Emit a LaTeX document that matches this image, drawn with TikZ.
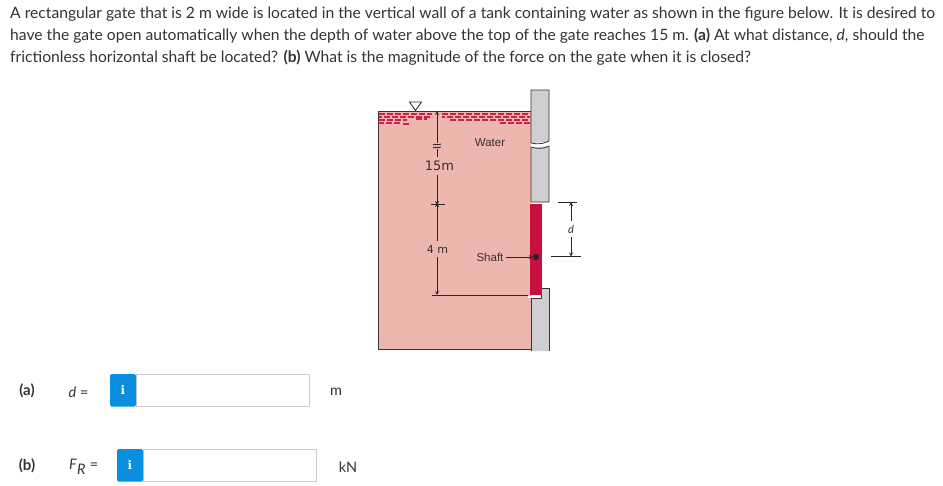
\documentclass[tikz,border=0pt]{standalone}
\usepackage{fontspec}
\setmainfont{Lato}
\newfontfamily\labelfont{Liberation Sans}
\newfontfamily\valuefont{DejaVu Sans}
\newfontfamily\iconfont{DejaVu Serif}
\definecolor{textgray}{HTML}{333333}
\definecolor{figgray}{HTML}{3A3035}
\definecolor{waterpink}{HTML}{EDB6AE}
\definecolor{gatered}{HTML}{C8103F}
\definecolor{wavered}{HTML}{C9224C}
\definecolor{wallgray}{HTML}{CDCFD1}
\definecolor{infoblue}{HTML}{0A8FE0}
\definecolor{boxgray}{HTML}{CCCCCC}
\tikzset{
  qline/.style={anchor=base west, inner sep=0pt, text=textgray, font=\fontsize{15.65}{18}\selectfont},
  figlabel/.style={inner xsep=2.5pt, inner ysep=3pt, text=figgray, font=\labelfont\fontsize{11.5}{13}\selectfont},
  anslabel/.style={inner sep=0pt, text=textgray, font=\fontsize{14.5}{16}\selectfont},
  partlabel/.style={inner sep=0pt, text=textgray, font=\fontsize{15}{17}\selectfont\bfseries},
  dimline/.style={draw=black!85, line width=0.8pt},
  wave/.style={draw=wavered, line width=2pt, dash pattern=on 6pt off 2pt},
  infobox/.style={fill=infoblue, rounded corners=1.5pt},
  inputbox/.style={draw=boxgray, fill=white, line width=1pt},
  infoletter/.style={inner sep=0pt, text=white, font=\iconfont\bfseries\fontsize{12}{14}\selectfont},
}
\begin{document}
\begin{tikzpicture}[x=1pt, y=-1pt, line join=round, >=stealth]
\useasboundingbox (0,0) rectangle (943,485);
% Question text
\node[qline] (lineone) at (10,18) {A rectangular gate that is 2 m wide is located in the vertical wall of a tank containing water as shown in the figure below. It is desired to};
\node[qline] (linetwo) at (10,40) {have the gate open automatically when the depth of water above the top of the gate reaches 15 m. \textbf{(a)} At what distance, \textit{d}, should the};
\node[qline] (linethree) at (10,62) {frictionless horizontal shaft be located? \textbf{(b)} What is the magnitude of the force on the gate when it is closed?};
% Water
\fill[waterpink] (378,111) rectangle (531,349);
\draw[figgray, line width=1pt] (531,349) -- (378,349) -- (378,111) -- (531,111);
\draw[wave] (379,113.5) -- (432,113.5);
\draw[wave] (442,113.5) -- (530,113.5);
\draw[wave, dash phase=3pt] (379,117) -- (432,117);
\draw[wave, dash phase=3pt] (442,117) -- (530,117);
\draw[wave] (379,120) -- (407,120);
\draw[wave] (450,120) -- (530,120);
\draw[wave] (378,123) -- (400,123);
\draw[wave] (403,124) -- (411,124);
\draw[wave] (416,119) -- (427,119);
\draw[wave] (500,123) -- (530,123);
% Wall
\fill[wallgray] (531,90) -- (549,90) -- (549,142) -- (531,143) -- cycle;
\fill[wallgray] (531,148) -- (549,146) -- (549,202) -- (531,202) -- cycle;
\draw[figgray, line width=0.8pt] (531,143) -- (531,90) -- (549,90) -- (549,141) .. controls (544,143) and (541,145) .. (531,143);
\draw[figgray, line width=0.8pt] (531,147) .. controls (538,149) and (543,149) .. (549,146) -- (549,202) -- (531,202) -- cycle;
\fill[wallgray] (542,288) -- (549,288) -- (549,351) -- (531,351) -- (531,298) -- (542,298) -- cycle;
\draw[figgray, line width=0.8pt] (531,351) -- (531,298) -- (541,298) -- (541,288) -- (549,288) -- (549,351);
% Gate
\fill[gatered] (530,204) rectangle (542,295);
\fill[white] (528,295.5) rectangle (541,298);
% Surface mark
\draw[figgray, fill=white, line width=0.9pt] (409.5,102) -- (421.5,102) -- (415.5,110.5) -- cycle;
% Depth dimension
\coordinate (surf) at (437,111);
\coordinate (gatetop) at (437,204);
\coordinate (gatebot) at (437,295);
\coordinate (tickl) at (431,204);
\coordinate (tickr) at (445,204);
\coordinate (botl) at (432,295);
\coordinate (botr) at (528,295);
\coordinate (breakup) at (437,143);
\coordinate (breakdn) at (437,149);
\node[inner xsep=2pt, inner ysep=3.5pt, text=figgray, font=\valuefont\fontsize{13}{15}\selectfont] (depth) at (439.5,166) {15m};
\node[figlabel, inner ysep=3.5pt, font=\valuefont\fontsize{11}{13}\selectfont] (gateh) at (437.5,249) {4 m};
\draw[dimline] (tickl) -- (tickr);
\draw[dimline] (botl) -- (botr);
\draw[dimline, <-] (surf) -- (breakup);
\draw[dimline] (breakdn) -- (breakdn |- depth.north);
\draw[dimline, ->] (surf |- depth.south) -- ([yshift=-1pt]gatetop);
\draw[dimline, <-] ([yshift=1pt]gatetop) -- (surf |- gateh.north);
\draw[dimline, ->] (surf |- gateh.south) -- (gatebot);
\draw[dimline] (433,145) .. controls (435,143) and (438,146) .. (441,144);
\draw[dimline] (433,148) .. controls (435,146) and (438,149) .. (441,147);
% Labels in the tank
\node[figlabel] (water) at (490,143) {Water};
\node[figlabel] (shaft) at (490,257) {Shaft};
% Shaft
\fill[black!85] (536,257) circle(3.2);
\coordinate (shaftend) at (533,257);
\draw[dimline, ->] (shaft) -- (shaftend);
% Distance d
\coordinate (dtopl) at (558,202);
\coordinate (dtopr) at (577,202);
\coordinate (dbotl) at (551,256.5);
\coordinate (dbotr) at (581,256.5);
\coordinate (dtop) at (571,202);
\coordinate (dbot) at (571,256.5);
\node[inner xsep=0pt, inner ysep=4pt, text=figgray, font=\fontsize{11}{12}\selectfont\itshape] (dlabel) at (571,229) {d};
\draw[dimline] (dtopl) -- (dtopr);
\draw[dimline] (dbotl) -- (dbotr);
\draw[dimline, <-] (dtop) -- (dlabel);
\draw[dimline, ->] (dlabel) -- (dbot);
% Answers
\node[partlabel] (parta) at (27,391) {(a)};
\node[anslabel, anchor=west] (dvalue) at (68.5,392) {\textit{d} =};
\node[inputbox, minimum width=173pt, minimum height=32pt, inner sep=0pt] (inputa) at (222.5,390.5) {};
\fill[infobox] (110,374) rectangle (136,406.5);
\node[infoletter] (infoa) at (123,390) {i};
\node[anslabel] (unita) at (336,392) {m};
\node[partlabel] (partb) at (27,466) {(b)};
\node[anslabel, anchor=west] (frvalue) at (69,467) {\textit{F}$_{\textit{R}}$ =};
\node[inputbox, minimum width=173pt, minimum height=32pt, inner sep=0pt] (inputb) at (229.5,465.5) {};
\fill[infobox] (117,449) rectangle (143,481.5);
\node[infoletter] (infob) at (130,465) {i};
\node[anslabel] (unitb) at (348,467) {kN};
\end{tikzpicture}
\end{document}
